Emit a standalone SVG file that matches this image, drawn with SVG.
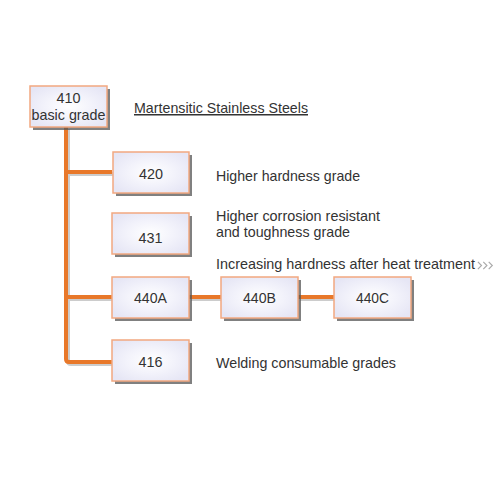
<svg xmlns="http://www.w3.org/2000/svg" width="500" height="500" viewBox="0 0 500 500">
<defs>
<radialGradient id="bg" cx="50%" cy="50%" r="60%">
<stop offset="0" stop-color="#ffffff"/>
<stop offset="0.5" stop-color="#f3f3fb"/>
<stop offset="1" stop-color="#e6e6f5"/>
</radialGradient>
<symbol id="chev" viewBox="0 0 20 10">
<path d="M1 1 L5 5 L1 9 M7 1 L11 5 L7 9 M13 1 L17 5 L13 9" fill="none" stroke="#aaa" stroke-width="1.3"/>
</symbol>
</defs>
<style>
.box{fill:url(#bg);stroke:#f2a880;stroke-width:1.5}
.sh{fill:#555;opacity:0.75}
.ln{stroke:#e8782a;stroke-width:4;fill:none}
.lns{stroke:#999;stroke-width:4;fill:none;opacity:0.5}
.t{font-family:"Liberation Sans",Arial,sans-serif;font-size:15px;fill:#333}
.c{text-anchor:middle}
</style>
<rect width="500" height="500" fill="#fff"/>
<g id="connectors">
<path class="lns" d="M68 129 V361 Q68 364 71 364 H114 M68 174 H114 M68 299 H114 M191 299 H223 M300 299 H336"/>
<path class="ln" d="M66 127 V359 Q66 362 69 362 H112 M66 172 H112 M66 297 H112 M189 297 H221 M298 297 H334"/>
</g>
<g id="n410">
<rect class="sh" x="33" y="89" width="77" height="41"/>
<rect class="box" x="30" y="86" width="77" height="41"/>
<text class="t c" x="68.5" y="103" textLength="24" lengthAdjust="spacingAndGlyphs">410</text>
<text class="t c" x="68.5" y="120" textLength="74" lengthAdjust="spacingAndGlyphs">basic grade</text>
</g>
<g id="title"><text class="t" x="134" y="113" text-decoration="underline" textLength="174" lengthAdjust="spacingAndGlyphs">Martensitic Stainless Steels</text></g>
<g id="n420">
<rect class="sh" x="116" y="155" width="76" height="41"/>
<rect class="box" x="113" y="152" width="76" height="41"/>
<text class="t c" x="151" y="179" textLength="24" lengthAdjust="spacingAndGlyphs">420</text>
</g>
<text class="t" x="216" y="181" textLength="144" lengthAdjust="spacingAndGlyphs">Higher hardness grade</text>
<g id="n431">
<rect class="sh" x="115" y="216" width="77" height="41"/>
<rect class="box" x="112" y="213" width="77" height="41"/>
<text class="t c" x="150.5" y="243" textLength="24" lengthAdjust="spacingAndGlyphs">431</text>
</g>
<text class="t" x="216" y="221" textLength="164" lengthAdjust="spacingAndGlyphs">Higher corrosion resistant</text>
<text class="t" x="216" y="237" textLength="134" lengthAdjust="spacingAndGlyphs">and toughness grade</text>
<text class="t" x="216" y="269" textLength="259" lengthAdjust="spacingAndGlyphs">Increasing hardness after heat treatment</text>
<use href="#chev" x="477" y="261" width="18" height="9"/>
<g id="n440A">
<rect class="sh" x="115" y="280" width="77" height="41"/>
<rect class="box" x="112" y="277" width="77" height="41"/>
<text class="t c" x="150.5" y="303" textLength="33" lengthAdjust="spacingAndGlyphs">440A</text>
</g>
<g id="n440B">
<rect class="sh" x="224" y="280" width="77" height="41"/>
<rect class="box" x="221" y="277" width="77" height="41"/>
<text class="t c" x="259.5" y="303" textLength="33" lengthAdjust="spacingAndGlyphs">440B</text>
</g>
<g id="n440C">
<rect class="sh" x="337" y="280" width="77" height="41"/>
<rect class="box" x="334" y="277" width="77" height="41"/>
<text class="t c" x="372.5" y="303" textLength="33" lengthAdjust="spacingAndGlyphs">440C</text>
</g>
<g id="n416">
<rect class="sh" x="115" y="343" width="77" height="41"/>
<rect class="box" x="112" y="340" width="77" height="41"/>
<text class="t c" x="150.5" y="367" textLength="24" lengthAdjust="spacingAndGlyphs">416</text>
</g>
<text class="t" x="216" y="368" textLength="180" lengthAdjust="spacingAndGlyphs">Welding consumable grades</text>
</svg>
